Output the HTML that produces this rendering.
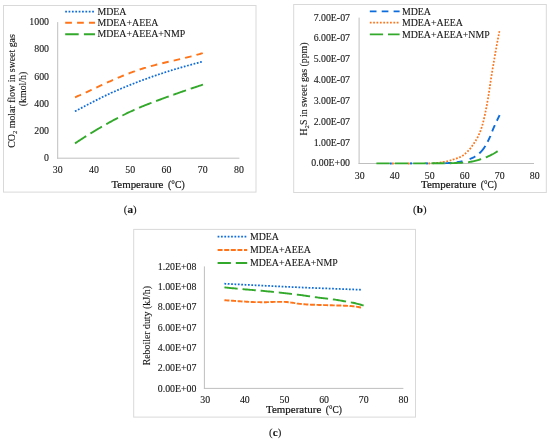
<!DOCTYPE html>
<html><head><meta charset="utf-8"><title>Figure</title>
<style>
html,body{margin:0;padding:0;background:#fff;}
svg{display:block;font-family:"Liberation Serif",serif;fill:#151515;}
text{stroke:#151515;stroke-width:0.1px;}
</style></head><body>
<svg width="550" height="441" viewBox="0 0 550 441">
<rect x="0" y="0" width="550" height="441" fill="#fff"/>
<rect x="3.5" y="5.5" width="252.5" height="186.6" fill="#fff" stroke="#d9d9d9" stroke-width="1"/>
<line x1="57.7" y1="22.1" x2="57.7" y2="158.7" stroke="#bfbfbf" stroke-width="1" />
<line x1="57.2" y1="158.2" x2="239.4" y2="158.2" stroke="#bfbfbf" stroke-width="1" />
<text x="49" y="161.2" text-anchor="end" font-size="9.85" >0</text>
<text x="49" y="134.02" text-anchor="end" font-size="9.85" >200</text>
<text x="49" y="106.84" text-anchor="end" font-size="9.85" >400</text>
<text x="49" y="79.66" text-anchor="end" font-size="9.85" >600</text>
<text x="49" y="52.48" text-anchor="end" font-size="9.85" >800</text>
<text x="49" y="25.3" text-anchor="end" font-size="9.85" >1000</text>
<text x="57.7" y="173.4" text-anchor="middle" font-size="9.85" >30</text>
<text x="93.96" y="173.4" text-anchor="middle" font-size="9.85" >40</text>
<text x="130.22" y="173.4" text-anchor="middle" font-size="9.85" >50</text>
<text x="166.48" y="173.4" text-anchor="middle" font-size="9.85" >60</text>
<text x="202.74" y="173.4" text-anchor="middle" font-size="9.85" >70</text>
<text x="239.0" y="173.4" text-anchor="middle" font-size="9.85" >80</text>
<text x="111.4" y="187.7" text-anchor="start" font-size="10.2" textLength="52" lengthAdjust="spacingAndGlyphs" style="stroke-width:0.2px">Temperaure</text>
<text x="168.1" y="187.7" text-anchor="start" font-size="10.2" textLength="16.6" lengthAdjust="spacingAndGlyphs" style="stroke-width:0.2px">(<tspan font-size="9.4">°</tspan>C)</text>
<text transform="translate(15,91) rotate(-90)" text-anchor="middle" font-size="9.85">CO<tspan font-size="6.8" dy="2">2</tspan><tspan dy="-2"> molar flow in sweet gas</tspan></text>
<text transform="translate(26.2,89) rotate(-90)" text-anchor="middle" font-size="9.85">(kmol/h)</text>
<line x1="65.2" y1="11.6" x2="95" y2="11.6" stroke="#0d6cdb" stroke-width="1.75" stroke-dasharray="1.75 1.62"/>
<text x="97.5" y="14.8" text-anchor="start" font-size="9.85" >MDEA</text>
<line x1="65.2" y1="22.8" x2="95" y2="22.8" stroke="#ff7419" stroke-width="1.9" stroke-dasharray="6.7 5.2"/>
<text x="97.5" y="26.0" text-anchor="start" font-size="9.85" >MDEA+AEEA</text>
<line x1="65.2" y1="34.2" x2="95" y2="34.2" stroke="#33a92b" stroke-width="1.9" stroke-dasharray="13.5 5.2"/>
<text x="97.5" y="37.4" text-anchor="start" font-size="9.85" >MDEA+AEEA+NMP</text>
<path d="M75.00,97.40 L75.09,97.36 L76.11,96.90 L77.13,96.44 L78.16,95.98 L79.18,95.51 L80.21,95.05 L81.01,94.68 M85.68,92.53 L85.76,92.49 L86.78,92.02 L87.81,91.54 L88.83,91.06 L89.86,90.59 L90.88,90.11 L91.66,89.74 M96.32,87.57 L96.35,87.56 L97.37,87.08 L98.40,86.61 L99.42,86.13 L100.45,85.66 L101.47,85.18 L102.31,84.80 M106.99,82.66 L107.02,82.64 L108.05,82.18 L109.07,81.72 L110.10,81.26 L111.12,80.80 L112.14,80.34 L113.01,79.96 M117.73,77.92 L117.78,77.89 L118.81,77.46 L119.83,77.02 L120.85,76.59 L121.88,76.17 L122.90,75.75 L123.82,75.37 M128.59,73.48 L128.63,73.47 L129.65,73.08 L130.67,72.69 L131.70,72.31 L132.72,71.93 L133.75,71.55 L134.77,71.19 L134.78,71.18 M139.64,69.52 L139.73,69.49 L140.75,69.16 L141.78,68.83 L142.80,68.51 L143.82,68.19 L144.85,67.88 L145.87,67.58 L145.95,67.55 M150.89,66.15 L150.91,66.14 L151.94,65.87 L152.96,65.59 L153.99,65.32 L155.01,65.05 L156.04,64.79 L157.06,64.53 L157.27,64.48 M162.27,63.25 L162.27,63.25 L163.29,63.00 L164.32,62.76 L165.34,62.52 L166.37,62.28 L167.39,62.04 L168.42,61.80 L168.69,61.74 M173.70,60.58 L173.71,60.58 L174.74,60.34 L175.76,60.11 L176.79,59.87 L177.81,59.63 L178.83,59.39 L179.86,59.15 L180.13,59.09 M185.13,57.89 L185.15,57.88 L186.18,57.63 L187.20,57.38 L188.23,57.12 L189.25,56.86 L190.28,56.60 L191.30,56.33 L191.52,56.28 M196.49,54.93 L196.51,54.92 L197.54,54.63 L198.56,54.34 L199.58,54.04 L200.61,53.73 L201.63,53.42 L202.66,53.11 L202.81,53.06" fill="none" stroke="#ff7419" stroke-width="1.9"/>
<path d="M75.00,111.40 L75.09,111.35 L76.11,110.80 L76.54,110.57 M77.97,109.80 L78.00,109.78 L79.02,109.23 L79.51,108.97 M80.93,108.20 L80.99,108.17 L82.02,107.62 L82.48,107.38 M83.91,106.61 L83.99,106.57 L85.01,106.03 L85.45,105.79 M86.88,105.04 L86.90,105.03 L87.92,104.49 L88.43,104.22 M89.87,103.47 L89.89,103.46 L90.92,102.92 L91.42,102.66 M92.86,101.92 L92.89,101.90 L93.92,101.37 L94.42,101.12 M95.86,100.38 L95.88,100.37 L96.91,99.85 L97.42,99.59 M98.87,98.87 L98.88,98.86 L99.91,98.35 L100.43,98.09 M101.89,97.37 L101.96,97.33 L102.99,96.83 L103.46,96.60 M104.92,95.90 L104.96,95.88 L105.98,95.39 L106.50,95.14 M107.96,94.45 L108.04,94.41 L109.06,93.93 L109.55,93.71 M111.02,93.03 L111.03,93.02 L112.06,92.56 L112.61,92.31 M114.09,91.64 L114.11,91.63 L115.14,91.18 L115.69,90.93 M117.17,90.28 L117.20,90.27 L118.22,89.83 L118.78,89.59 M120.27,88.95 L120.28,88.95 L121.30,88.51 L121.88,88.27 M123.38,87.65 L123.44,87.62 L124.47,87.19 L124.99,86.98 M126.49,86.37 L126.53,86.35 L127.55,85.94 L128.12,85.71 M129.62,85.11 L129.69,85.08 L130.72,84.67 L131.25,84.46 M132.75,83.87 L132.77,83.86 L133.80,83.47 L134.39,83.24 M135.90,82.66 L135.94,82.64 L136.97,82.25 L137.53,82.03 M139.05,81.46 L139.11,81.44 L140.13,81.05 L140.69,80.84 M142.20,80.28 L142.27,80.25 L143.30,79.87 L143.85,79.67 M145.37,79.11 L145.44,79.09 L146.47,78.71 L147.01,78.51 M148.53,77.97 L148.61,77.94 L149.63,77.57 L150.18,77.38 M151.71,76.84 L151.77,76.81 L152.80,76.45 L153.36,76.26 M154.89,75.73 L154.94,75.71 L155.97,75.36 L156.55,75.16 M158.08,74.64 L158.11,74.63 L159.14,74.29 L159.74,74.09 M161.28,73.58 L161.36,73.55 L162.39,73.21 L162.94,73.03 M164.48,72.53 L164.53,72.52 L165.55,72.19 L166.15,72.00 M167.70,71.51 L167.78,71.49 L168.81,71.17 L169.37,70.99 M170.91,70.51 L170.95,70.50 L171.97,70.19 L172.59,70.00 M174.14,69.53 L174.20,69.51 L175.23,69.21 L175.82,69.03 M177.37,68.57 L177.45,68.55 L178.48,68.24 L179.05,68.08 M180.60,67.63 L180.62,67.62 L181.65,67.32 L182.28,67.14 M183.84,66.70 L183.87,66.69 L184.90,66.40 L185.53,66.22 M187.09,65.78 L187.12,65.77 L188.15,65.48 L188.77,65.31 M190.33,64.88 L190.38,64.87 L191.40,64.59 L192.02,64.42 M193.58,63.99 L193.63,63.98 L194.66,63.70 L195.27,63.53 M196.84,63.11 L196.88,63.10 L197.91,62.83 L198.53,62.66 M200.09,62.25 L200.13,62.24 L201.16,61.96 L201.79,61.80" fill="none" stroke="#0d6cdb" stroke-width="1.75"/>
<path d="M75.00,143.40 L75.09,143.34 L76.11,142.66 L77.13,141.97 L78.16,141.30 L79.18,140.62 L80.21,139.95 L81.23,139.29 L82.26,138.63 L83.28,137.97 L84.31,137.31 L85.33,136.66 L86.23,136.09 M90.44,133.48 L90.46,133.47 L91.48,132.84 L92.51,132.22 L93.53,131.60 L94.55,130.98 L95.58,130.37 L96.60,129.76 L97.63,129.15 L98.65,128.55 L99.68,127.95 L100.70,127.36 L101.73,126.77 L101.96,126.64 M106.26,124.19 L106.34,124.15 L107.36,123.58 L108.39,123.01 L109.41,122.44 L110.44,121.88 L111.46,121.32 L112.49,120.76 L113.51,120.21 L114.54,119.66 L115.56,119.11 L116.59,118.57 L117.61,118.03 L118.04,117.81 M122.44,115.54 L122.48,115.52 L123.50,115.00 L124.53,114.49 L125.55,113.98 L126.58,113.47 L127.60,112.97 L128.63,112.48 L129.65,111.99 L130.67,111.50 L131.70,111.02 L132.72,110.55 L133.75,110.08 L134.52,109.73 M139.05,107.75 L139.13,107.72 L140.15,107.29 L141.18,106.86 L142.20,106.44 L143.23,106.03 L144.25,105.62 L145.28,105.21 L146.30,104.80 L147.33,104.40 L148.35,104.01 L149.37,103.61 L150.40,103.22 L151.42,102.82 L151.50,102.79 M156.13,101.04 L156.21,101.01 L157.23,100.63 L158.26,100.25 L159.28,99.87 L160.30,99.49 L161.33,99.11 L162.35,98.73 L163.38,98.35 L164.40,97.98 L165.43,97.60 L166.45,97.23 L167.48,96.86 L168.50,96.49 L168.71,96.42 M173.36,94.74 L173.37,94.74 L174.39,94.38 L175.42,94.01 L176.44,93.65 L177.47,93.29 L178.49,92.93 L179.52,92.57 L180.54,92.21 L181.57,91.85 L182.59,91.50 L183.62,91.14 L184.64,90.79 L185.67,90.43 L186.01,90.31 M190.70,88.71 L190.70,88.71 L191.73,88.36 L192.75,88.02 L193.78,87.67 L194.80,87.32 L195.83,86.98 L196.85,86.64 L197.88,86.30 L198.90,85.96 L199.93,85.61 L200.95,85.28 L201.98,84.94 L203.00,84.60" fill="none" stroke="#33a92b" stroke-width="1.9"/>
<text x="130.2" y="213.2" text-anchor="middle" font-size="10.8">(<tspan font-weight="bold" font-size="11.2">a</tspan>)</text>
<rect x="293.7" y="4.5" width="252.6" height="188" fill="#fff" stroke="#d9d9d9" stroke-width="1"/>
<line x1="359.1" y1="17.6" x2="359.1" y2="164" stroke="#bfbfbf" stroke-width="1" />
<line x1="358.6" y1="163.5" x2="534" y2="163.5" stroke="#bfbfbf" stroke-width="1" />
<text x="350" y="166.4" text-anchor="end" font-size="9.85" >0.00E+00</text>
<text x="350" y="145.56" text-anchor="end" font-size="9.85" >1.00E-07</text>
<text x="350" y="124.72" text-anchor="end" font-size="9.85" >2.00E-07</text>
<text x="350" y="103.88" text-anchor="end" font-size="9.85" >3.00E-07</text>
<text x="350" y="83.04" text-anchor="end" font-size="9.85" >4.00E-07</text>
<text x="350" y="62.2" text-anchor="end" font-size="9.85" >5.00E-07</text>
<text x="350" y="41.36" text-anchor="end" font-size="9.85" >6.00E-07</text>
<text x="350" y="20.52" text-anchor="end" font-size="9.85" >7.00E-07</text>
<text x="359.7" y="178.6" text-anchor="middle" font-size="9.85" >30</text>
<text x="394.7" y="178.6" text-anchor="middle" font-size="9.85" >40</text>
<text x="429.7" y="178.6" text-anchor="middle" font-size="9.85" >50</text>
<text x="464.7" y="178.6" text-anchor="middle" font-size="9.85" >60</text>
<text x="499.7" y="178.6" text-anchor="middle" font-size="9.85" >70</text>
<text x="534.7" y="178.6" text-anchor="middle" font-size="9.85" >80</text>
<text x="421" y="188.3" text-anchor="start" font-size="10.2" textLength="55.3" lengthAdjust="spacingAndGlyphs" style="stroke-width:0.2px">Temperature</text>
<text x="480.8" y="188.3" text-anchor="start" font-size="10.2" textLength="16" lengthAdjust="spacingAndGlyphs" style="stroke-width:0.2px">(<tspan font-size="9.4">°</tspan>C)</text>
<text transform="translate(306.8,89) rotate(-90)" text-anchor="middle" font-size="9.85">H<tspan font-size="6.8" dy="2">2</tspan><tspan dy="-2">S in sweet gas (ppm)</tspan></text>
<line x1="369.8" y1="11.4" x2="399.6" y2="11.4" stroke="#0d6cdb" stroke-width="1.9" stroke-dasharray="6.7 5.2"/>
<text x="402" y="14.6" text-anchor="start" font-size="9.85" >MDEA</text>
<line x1="369.8" y1="22.6" x2="399.6" y2="22.6" stroke="#ff7419" stroke-width="1.75" stroke-dasharray="1.75 1.62"/>
<text x="402" y="25.8" text-anchor="start" font-size="9.85" >MDEA+AEEA</text>
<line x1="369.8" y1="34.4" x2="399.6" y2="34.4" stroke="#33a92b" stroke-width="1.9" stroke-dasharray="13.3 4.9"/>
<text x="402" y="37.6" text-anchor="start" font-size="9.85" >MDEA+AEEA+NMP</text>
<path d="M433.00,163.30 L433.11,163.29 L434.43,163.17 L434.74,163.14 M436.35,162.96 L436.39,162.96 L437.71,162.80 L438.09,162.75 M439.70,162.54 L439.78,162.53 L441.08,162.35 L441.43,162.30 M443.03,162.05 L443.04,162.04 L444.35,161.82 L444.75,161.75 M446.34,161.44 L446.40,161.43 L447.68,161.15 L448.05,161.06 M449.62,160.65 L449.71,160.63 L450.98,160.26 L451.30,160.16 M452.85,159.68 L452.87,159.67 L454.12,159.26 L454.51,159.13 M456.05,158.62 L456.12,158.59 L457.39,158.15 L457.70,158.04 M459.20,157.45 L459.25,157.43 L460.44,156.89 L460.79,156.72 M462.21,155.93 L462.22,155.92 L463.31,155.20 L463.66,154.94 M464.93,153.94 L464.97,153.91 L465.98,153.02 L466.24,152.78 M467.41,151.66 L467.45,151.62 L468.38,150.67 L468.63,150.41 M469.71,149.20 L469.76,149.14 L470.58,148.10 L470.79,147.82 M471.73,146.50 L471.74,146.48 L472.50,145.40 L472.73,145.07 M473.67,143.75 L473.71,143.69 L474.46,142.60 L474.66,142.31 M475.55,140.95 L475.56,140.94 L476.25,139.82 L476.46,139.46 M477.24,138.04 L477.26,138.01 L477.87,136.84 L478.04,136.48 M478.75,135.03 L478.78,134.95 L479.33,133.74 L479.47,133.43 M480.09,131.94 L480.10,131.91 L480.58,130.68 L480.72,130.30 M481.25,128.77 L481.26,128.72 L481.67,127.46 L481.78,127.10 M482.24,125.55 L482.26,125.46 L482.62,124.19 L482.71,123.86 M483.12,122.30 L483.13,122.27 L483.45,120.99 L483.55,120.60 M483.93,119.03 L483.94,118.95 L484.25,117.66 L484.33,117.32 M484.69,115.74 L484.69,115.74 L484.97,114.45 L485.06,114.03 M485.40,112.45 L485.41,112.40 L485.68,111.11 L485.75,110.73 M486.07,109.15 L486.09,109.06 L486.34,107.76 L486.40,107.43 M486.70,105.84 L486.71,105.82 L486.95,104.52 L487.02,104.11 M487.31,102.52 L487.32,102.46 L487.55,101.16 L487.61,100.80 M487.88,99.20 L487.90,99.10 L488.12,97.80 L488.17,97.47 M488.43,95.88 L488.44,95.85 L488.64,94.55 L488.71,94.15 M488.95,92.55 L488.96,92.48 L489.16,91.18 L489.22,90.82 M489.46,89.21 L489.48,89.11 L489.67,87.80 L489.72,87.48 M489.96,85.88 L489.96,85.85 L490.16,84.54 L490.22,84.15 M490.46,82.55 L490.47,82.47 L490.66,81.17 L490.72,80.82 M490.96,79.22 L490.96,79.21 L491.16,77.90 L491.23,77.49 M491.48,75.89 L491.49,75.84 L491.70,74.54 L491.76,74.16 M492.02,72.56 L492.03,72.47 L492.25,71.17 L492.30,70.83 M492.57,69.23 L492.57,69.22 L492.79,67.92 L492.86,67.51 M493.13,65.91 L493.14,65.86 L493.36,64.55 L493.42,64.19 M493.69,62.59 L493.71,62.49 L493.93,61.19 L493.99,60.86 M494.26,59.27 L494.27,59.24 L494.49,57.94 L494.56,57.54 M494.84,55.95 L494.85,55.88 L495.08,54.58 L495.14,54.22 M495.42,52.63 L495.44,52.53 L495.67,51.23 L495.73,50.91 M496.02,49.31 L496.02,49.28 L496.26,47.98 L496.33,47.59 M496.62,46.00 L496.63,45.92 L496.87,44.62 L496.93,44.27 M497.23,42.68 L497.23,42.68 L497.47,41.38 L497.54,40.96 M497.84,39.37 L497.85,39.32 L498.09,38.03 L498.16,37.65 M498.46,36.06 L498.48,35.97 L498.73,34.68 L498.79,34.34 M499.09,32.74 L499.10,32.73 L499.35,31.44 L499.42,31.03" fill="none" stroke="#ff7419" stroke-width="1.75"/>
<path d="M499.60,115.20 L499.58,115.25 L499.28,115.83 L499.00,116.41 L498.71,116.99 L498.42,117.57 L498.14,118.15 L497.85,118.73 L497.57,119.31 L497.29,119.89 L497.01,120.48 L496.87,120.77 M494.84,125.12 L494.82,125.17 L494.56,125.76 L494.29,126.35 L494.03,126.94 L493.77,127.53 L493.51,128.12 L493.26,128.72 L493.02,129.32 L492.78,129.92 L492.54,130.52 L492.30,131.13 L492.20,131.38 M490.34,136.02 L490.34,136.04 L490.08,136.63 L489.83,137.23 L489.56,137.81 L489.29,138.40 L489.01,138.98 L488.73,139.55 L488.44,140.14 L488.15,140.72 L487.86,141.30 L487.60,141.80 M485.32,145.91 L485.31,145.93 L484.96,146.48 L484.62,147.03 L484.26,147.56 L483.90,148.09 L483.53,148.60 L483.15,149.11 L482.76,149.60 L482.36,150.10 L481.94,150.60 L481.52,151.09 L481.08,151.58 L480.63,152.07 L480.17,152.55 L479.70,153.01 L479.32,153.37 M475.35,156.40 L475.35,156.40 L474.80,156.71 L474.24,157.01 L473.66,157.31 L473.08,157.59 L472.48,157.87 L471.88,158.13 L471.27,158.39 L470.66,158.64 L470.05,158.87 L469.64,159.03 M462.46,161.19 L462.46,161.19 L461.83,161.33 L461.19,161.47 L460.56,161.60 L459.93,161.71 L459.29,161.83 L458.65,161.94 L458.02,162.04 L457.38,162.15 L456.74,162.25 L456.66,162.26 M451.69,162.82 L451.65,162.83 L451.00,162.87 L450.36,162.92 L449.71,162.96 L449.07,163.00 L448.42,163.04 L447.78,163.08 L447.13,163.11 L446.48,163.14 L445.84,163.16 L445.20,163.18" fill="none" stroke="#0d6cdb" stroke-width="1.9"/>
<path d="M376.40,163.40 L376.48,163.40 L377.48,163.40 L378.49,163.40 L379.49,163.40 L380.49,163.40 L381.49,163.40 L382.49,163.40 L383.49,163.40 L384.49,163.40 L385.49,163.40 L386.49,163.40 L387.49,163.40 L388.49,163.40 L389.49,163.40 L389.80,163.40 M394.75,163.39 L394.83,163.39 L395.83,163.39 L396.83,163.39 L397.83,163.39 L398.83,163.39 L399.83,163.39 L400.83,163.38 L401.83,163.38 L402.83,163.38 L403.83,163.38 L404.83,163.38 L405.83,163.38 L406.83,163.37 L407.83,163.37 L408.15,163.37 M413.10,163.36 L413.17,163.36 L414.17,163.36 L415.17,163.36 L416.17,163.35 L417.17,163.35 L418.17,163.35 L419.17,163.34 L420.17,163.34 L421.17,163.34 L422.17,163.33 L423.17,163.33 L424.17,163.33 L425.17,163.32 L426.17,163.32 L426.50,163.32 M431.45,163.30 L431.50,163.30 L432.50,163.30 L433.50,163.29 L434.50,163.29 L435.50,163.28 L436.50,163.28 L437.50,163.27 L438.50,163.27 L439.50,163.26 L440.50,163.26 L441.50,163.25 L442.50,163.25 L443.50,163.24 L444.50,163.23 L444.85,163.23 M449.80,163.20 L449.83,163.20 L450.83,163.19 L451.83,163.17 L452.83,163.14 L453.83,163.11 L454.83,163.07 L455.83,163.02 L456.83,162.97 L457.83,162.92 L458.82,162.86 L459.82,162.81 L460.82,162.76 L461.82,162.70 L462.82,162.64 L463.19,162.61 M468.12,162.19 L468.13,162.19 L469.12,162.06 L470.11,161.90 L471.10,161.72 L472.08,161.52 L473.06,161.31 L474.04,161.08 L475.01,160.84 L475.98,160.61 L476.94,160.36 L477.91,160.09 L478.87,159.81 L479.83,159.52 L480.78,159.21 L481.13,159.09 M485.78,157.39 L485.80,157.38 L486.72,157.01 L487.65,156.62 L488.56,156.22 L489.47,155.80 L490.38,155.36 L491.27,154.91 L492.16,154.45 L493.04,153.98 L493.91,153.49 L494.77,152.98 L495.62,152.46 L496.46,151.92 L497.29,151.36 L497.60,151.15" fill="none" stroke="#33a92b" stroke-width="1.9"/>
<line x1="390" y1="163.4" x2="391.8" y2="163.4" stroke="#0d6cdb" stroke-width="2.0" />
<line x1="392" y1="163.4" x2="393.7" y2="163.4" stroke="#ff7419" stroke-width="2.0" />
<line x1="408" y1="163.4" x2="409.6" y2="163.4" stroke="#ff7419" stroke-width="2.0" />
<line x1="410" y1="163.4" x2="412.2" y2="163.4" stroke="#0d6cdb" stroke-width="2.0" />
<line x1="426.2" y1="163.4" x2="428.2" y2="163.4" stroke="#0d6cdb" stroke-width="2.0" />
<line x1="428.6" y1="163.4" x2="430.2" y2="163.4" stroke="#ff7419" stroke-width="2.0" />
<text x="419.8" y="213.2" text-anchor="middle" font-size="10.8">(<tspan font-weight="bold" font-size="11.2">b</tspan>)</text>
<rect x="133.7" y="229.4" width="281.8" height="187.7" fill="#fff" stroke="#d9d9d9" stroke-width="1"/>
<line x1="204.4" y1="266.4" x2="204.4" y2="388.9" stroke="#bfbfbf" stroke-width="1" />
<line x1="203.9" y1="388.4" x2="403.4" y2="388.4" stroke="#bfbfbf" stroke-width="1" />
<text x="196.4" y="391.5" text-anchor="end" font-size="9.85" >0.00E+00</text>
<text x="196.4" y="371.21" text-anchor="end" font-size="9.85" >2.00E+07</text>
<text x="196.4" y="350.92" text-anchor="end" font-size="9.85" >4.00E+07</text>
<text x="196.4" y="330.63" text-anchor="end" font-size="9.85" >6.00E+07</text>
<text x="196.4" y="310.34" text-anchor="end" font-size="9.85" >8.00E+07</text>
<text x="196.4" y="290.05" text-anchor="end" font-size="9.85" >1.00E+08</text>
<text x="196.4" y="269.76" text-anchor="end" font-size="9.85" >1.20E+08</text>
<text x="205.2" y="403.4" text-anchor="middle" font-size="9.85" >30</text>
<text x="244.84" y="403.4" text-anchor="middle" font-size="9.85" >40</text>
<text x="284.48" y="403.4" text-anchor="middle" font-size="9.85" >50</text>
<text x="324.12" y="403.4" text-anchor="middle" font-size="9.85" >60</text>
<text x="363.76" y="403.4" text-anchor="middle" font-size="9.85" >70</text>
<text x="403.4" y="403.4" text-anchor="middle" font-size="9.85" >80</text>
<text x="266" y="413" text-anchor="start" font-size="10.2" textLength="55.3" lengthAdjust="spacingAndGlyphs" style="stroke-width:0.2px">Temperature</text>
<text x="325.8" y="413" text-anchor="start" font-size="10.2" textLength="16" lengthAdjust="spacingAndGlyphs" style="stroke-width:0.2px">(<tspan font-size="9.4">°</tspan>C)</text>
<text transform="translate(149.5,325.7) rotate(-90)" text-anchor="middle" font-size="9.85">Reboiler duty (kJ/h)</text>
<line x1="217.6" y1="236.6" x2="247.2" y2="236.6" stroke="#0d6cdb" stroke-width="1.75" stroke-dasharray="1.75 1.62"/>
<text x="250" y="239.8" text-anchor="start" font-size="9.85" >MDEA</text>
<line x1="217.6" y1="250" x2="247.2" y2="250" stroke="#ff7419" stroke-width="1.9" stroke-dasharray="5 1.6"/>
<text x="250" y="253.2" text-anchor="start" font-size="9.85" >MDEA+AEEA</text>
<line x1="217.6" y1="263" x2="247.2" y2="263" stroke="#33a92b" stroke-width="1.9" stroke-dasharray="13.3 4.9"/>
<text x="250" y="266.2" text-anchor="start" font-size="9.85" >MDEA+AEEA+NMP</text>
<path d="M224.40,283.70 L224.49,283.70 L225.59,283.76 L226.15,283.79 M227.77,283.87 L227.80,283.88 L228.90,283.93 L229.51,283.96 M231.13,284.05 L231.19,284.05 L232.29,284.11 L232.88,284.14 M234.50,284.22 L234.50,284.22 L235.60,284.28 L236.24,284.31 M237.86,284.39 L237.89,284.39 L239.00,284.45 L239.61,284.48 M241.23,284.56 L241.29,284.57 L242.39,284.62 L242.98,284.65 M244.59,284.73 L244.59,284.73 L245.70,284.79 L246.34,284.82 M247.96,284.90 L247.99,284.90 L249.09,284.96 L249.71,284.99 M251.33,285.07 L251.39,285.07 L252.49,285.13 L253.07,285.16 M254.69,285.24 L254.69,285.24 L255.79,285.29 L256.44,285.32 M258.06,285.40 L258.09,285.41 L259.19,285.46 L259.80,285.49 M261.42,285.57 L261.48,285.57 L262.59,285.63 L263.17,285.66 M264.79,285.74 L264.79,285.74 L265.89,285.79 L266.54,285.82 M268.15,285.90 L268.19,285.90 L269.29,285.96 L269.90,285.99 M271.52,286.07 L271.58,286.07 L272.68,286.12 L273.27,286.15 M274.89,286.23 L274.89,286.23 L275.99,286.28 L276.63,286.32 M278.25,286.39 L278.28,286.40 L279.38,286.45 L280.00,286.48 M281.62,286.56 L281.68,286.56 L282.78,286.61 L283.37,286.64 M284.98,286.72 L285.08,286.72 L286.18,286.77 L286.73,286.80 M288.35,286.88 L288.38,286.88 L289.48,286.93 L290.10,286.96 M291.72,287.03 L291.78,287.03 L292.88,287.08 L293.47,287.11 M295.08,287.18 L295.17,287.19 L296.28,287.24 L296.83,287.26 M298.45,287.33 L298.48,287.33 L299.58,287.38 L300.20,287.41 M301.82,287.48 L301.87,287.48 L302.98,287.53 L303.57,287.55 M305.18,287.62 L305.27,287.62 L306.37,287.67 L306.93,287.69 M308.55,287.76 L308.58,287.76 L309.68,287.80 L310.30,287.83 M311.92,287.89 L311.97,287.90 L313.07,287.94 L313.67,287.96 M315.29,288.03 L315.37,288.03 L316.47,288.07 L317.04,288.10 M318.65,288.16 L318.67,288.16 L319.77,288.20 L320.40,288.23 M322.02,288.29 L322.07,288.29 L323.17,288.34 L323.77,288.36 M325.39,288.42 L325.47,288.42 L326.57,288.47 L327.14,288.49 M328.76,288.55 L328.77,288.55 L329.87,288.60 L330.50,288.62 M332.12,288.68 L332.17,288.68 L333.27,288.73 L333.87,288.75 M335.49,288.81 L335.56,288.81 L336.66,288.86 L337.24,288.88 M338.86,288.94 L338.87,288.94 L339.97,288.98 L340.61,289.01 M342.23,289.07 L342.26,289.07 L343.37,289.11 L343.98,289.13 M345.59,289.19 L345.66,289.20 L346.76,289.24 L347.34,289.26 M348.96,289.32 L348.97,289.32 L350.07,289.36 L350.71,289.39 M352.33,289.45 L352.36,289.45 L353.46,289.49 L354.08,289.51 M355.70,289.57 L355.76,289.57 L356.86,289.61 L357.45,289.63 M359.06,289.69 L359.15,289.70 L360.26,289.74 L360.81,289.76" fill="none" stroke="#0d6cdb" stroke-width="1.75"/>
<path d="M224.40,300.20 L224.49,300.21 L225.59,300.28 L226.69,300.36 L227.80,300.44 L228.90,300.51 L229.39,300.55 M230.98,300.66 L231.01,300.66 L232.11,300.74 L233.21,300.81 L234.31,300.89 L235.42,300.96 L235.97,301.00 M237.57,301.12 L237.62,301.12 L238.72,301.20 L239.82,301.28 L240.92,301.36 L242.02,301.43 L242.56,301.47 M244.15,301.57 L244.23,301.57 L245.33,301.64 L246.43,301.70 L247.53,301.77 L248.63,301.84 L249.14,301.87 M250.74,301.95 L250.75,301.95 L251.85,302.00 L252.95,302.05 L254.05,302.08 L255.15,302.10 L255.74,302.11 M257.34,302.14 L257.35,302.14 L258.46,302.15 L259.56,302.17 L260.66,302.18 L261.76,302.19 L262.34,302.19 M263.94,302.20 L263.96,302.20 L265.06,302.20 L266.17,302.19 L267.27,302.17 L268.37,302.13 L268.94,302.10 M270.54,302.04 L270.57,302.03 L271.67,301.99 L272.78,301.95 L273.88,301.92 L274.98,301.90 L275.53,301.90 M277.13,301.90 L277.18,301.90 L278.28,301.90 L279.38,301.90 L280.49,301.90 L281.59,301.90 L282.13,301.90 M283.73,301.90 L283.79,301.90 L284.89,301.92 L285.99,301.98 L287.10,302.07 L288.20,302.20 L288.72,302.26 M290.30,302.48 L290.31,302.48 L291.41,302.63 L292.51,302.78 L293.61,302.92 L294.71,303.09 L295.25,303.18 M296.83,303.45 L296.92,303.47 L298.02,303.64 L299.12,303.80 L300.22,303.92 L301.32,304.03 L301.79,304.07 M303.38,304.21 L303.44,304.21 L304.54,304.30 L305.64,304.38 L306.74,304.45 L307.84,304.51 L308.37,304.54 M309.97,304.62 L310.04,304.63 L311.15,304.68 L312.25,304.72 L313.35,304.76 L314.45,304.80 L314.96,304.82 M316.56,304.88 L316.65,304.88 L317.76,304.91 L318.86,304.95 L319.96,304.98 L321.06,305.01 L321.56,305.03 M323.16,305.07 L323.17,305.07 L324.27,305.11 L325.37,305.14 L326.48,305.17 L327.58,305.20 L328.16,305.22 M329.76,305.26 L329.78,305.26 L330.88,305.28 L331.98,305.31 L333.08,305.34 L334.19,305.37 L334.76,305.38 M336.36,305.43 L336.39,305.43 L337.49,305.46 L338.59,305.50 L339.69,305.54 L340.80,305.57 L341.35,305.59 M342.95,305.65 L343.00,305.65 L344.10,305.69 L345.20,305.73 L346.30,305.78 L347.40,305.83 L347.95,305.86 M349.54,305.95 L349.61,305.96 L350.71,306.03 L351.81,306.12 L352.91,306.24 L354.01,306.37 L354.52,306.44 M356.10,306.67 L356.13,306.67 L357.23,306.83 L358.33,307.02 L359.43,307.23 L360.53,307.47 L361.02,307.57" fill="none" stroke="#ff7419" stroke-width="1.9"/>
<path d="M224.40,287.40 L224.49,287.41 L225.61,287.53 L226.72,287.64 L227.84,287.75 L228.95,287.87 L230.06,287.98 L231.18,288.09 L232.29,288.20 L233.41,288.31 L234.52,288.42 L235.64,288.52 L236.75,288.63 L237.63,288.71 M242.51,289.16 L242.60,289.17 L243.72,289.27 L244.83,289.37 L245.94,289.46 L247.06,289.55 L248.17,289.65 L249.29,289.74 L250.40,289.83 L251.52,289.92 L252.63,290.01 L253.74,290.10 L254.86,290.19 L255.77,290.27 M260.65,290.70 L260.71,290.70 L261.82,290.80 L262.94,290.91 L264.05,291.01 L265.17,291.12 L266.28,291.22 L267.40,291.33 L268.51,291.44 L269.62,291.55 L270.74,291.66 L271.85,291.77 L272.97,291.88 L273.89,291.98 M278.76,292.49 L278.82,292.49 L279.93,292.61 L281.05,292.73 L282.16,292.85 L283.27,292.97 L284.39,293.09 L285.50,293.22 L286.62,293.34 L287.73,293.47 L288.85,293.60 L289.96,293.73 L291.07,293.86 L291.98,293.96 M296.84,294.56 L296.93,294.57 L298.04,294.71 L299.15,294.85 L300.27,295.00 L301.38,295.15 L302.50,295.31 L303.61,295.46 L304.73,295.62 L305.84,295.78 L306.95,295.95 L308.07,296.11 L309.18,296.27 L310.01,296.40 M314.86,297.10 L314.94,297.11 L316.05,297.27 L317.17,297.43 L318.28,297.58 L319.40,297.73 L320.51,297.87 L321.63,298.02 L322.74,298.15 L323.86,298.28 L324.97,298.41 L326.08,298.53 L327.20,298.65 L328.06,298.74 M332.93,299.32 L332.96,299.33 L334.07,299.48 L335.18,299.65 L336.30,299.82 L337.41,300.00 L338.53,300.19 L339.64,300.39 L340.76,300.59 L341.87,300.79 L342.98,300.99 L344.10,301.19 L345.21,301.38 L346.04,301.52 M350.87,302.34 L350.88,302.34 L351.99,302.56 L353.11,302.79 L354.22,303.04 L355.34,303.30 L356.45,303.57 L357.56,303.85 L358.68,304.15 L359.79,304.46 L360.91,304.78 L362.02,305.11 L363.14,305.45 L363.60,305.60" fill="none" stroke="#33a92b" stroke-width="1.9"/>
<text x="275.2" y="436.4" text-anchor="middle" font-size="10.8">(<tspan font-weight="bold" font-size="11.2">c</tspan>)</text>
</svg>
</body></html>
